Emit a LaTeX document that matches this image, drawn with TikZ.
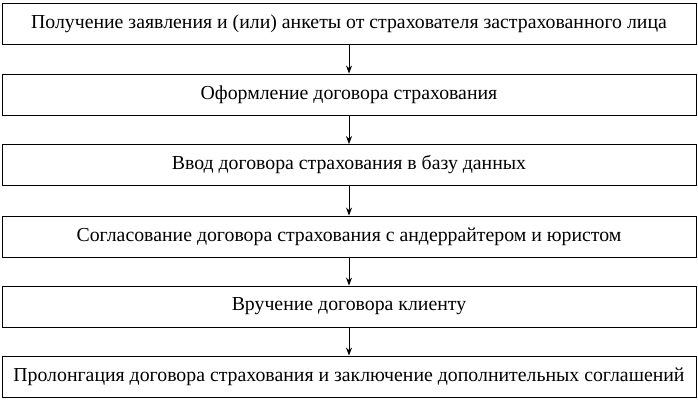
\documentclass[tikz,border=0pt]{standalone}
\usepackage{fontspec}
\setmainfont{Liberation Serif}
\usetikzlibrary{arrows.meta}
\begin{document}
\begin{tikzpicture}[x=1pt,y=-1pt,
  boxst/.style={draw,line width=0.9pt,minimum width=694pt,minimum height=41pt,inner sep=0pt,font=\fontsize{19.8}{22}\selectfont},
  arr/.style={-{Stealth[length=8pt,width=6pt]},line width=0.8pt}]
\useasboundingbox (0,0) rectangle (698,400);
\node[boxst] (b1) at (349,23.5) {Получение заявления и (или) анкеты от страхователя застрахованного лица};
\node[boxst] (b2) at (349,94.5) {Оформление договора страхования};
\node[boxst] (b3) at (349,165) {Ввод договора страхования в базу данных};
\node[boxst] (b4) at (349,236.5) {Согласование договора страхования с андеррайтером и юристом};
\node[boxst] (b5) at (349,306.5) {Вручение договора клиенту};
\node[boxst] (b6) at (349,376.5) {Пролонгация договора страхования и заключение дополнительных соглашений};
\foreach \a/\b in {b1/b2,b2/b3,b3/b4,b4/b5,b5/b6}
  \draw[arr] (\a) -- (\b);
\end{tikzpicture}
\end{document}
